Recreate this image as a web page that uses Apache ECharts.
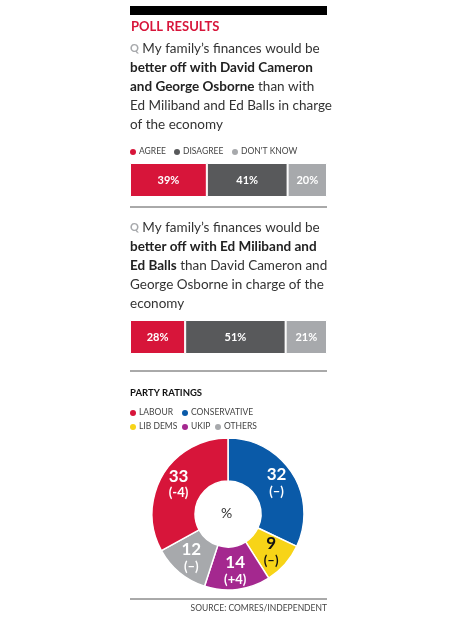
<!DOCTYPE html>
<html><head><meta charset="utf-8">
<script src="https://cdn.jsdelivr.net/npm/echarts@6/dist/echarts.min.js"></script>
<style>html,body{margin:0;padding:0;background:#fff}#main{width:474px;height:632px}</style>
</head><body><div id="main"></div>
<script>
// poll answers
const answers = ['AGREE', 'DISAGREE', "DON'T KNOW"];
const answerColors = ['#d7153a', '#58595b', '#a7a9ac'];
const q1Values = [39, 41, 20];
const q2Values = [28, 51, 21];
// party ratings, clockwise from top
const parties = ['CONSERVATIVE', 'LIB DEMS', 'UKIP', 'OTHERS', 'LABOUR'];
const partyValues = [32, 9, 14, 12, 33];
const partyChanges = ['(–)', '(–)', '(+4)', '(–)', '(-4)'];
const partyColors = ['#0a5aa8', '#f7d417', '#a4288f', '#a7a9ac', '#d7153a'];

const chart = echarts.init(document.getElementById('main'));
const F = 'Lato, "Open Sans", sans-serif';

function barSeries(values, gi) {
  return answers.map((a, i) => ({
    type: 'bar', stack: 's' + gi, xAxisIndex: gi, yAxisIndex: gi,
    data: [values[i]], barWidth: 34,
    itemStyle: { color: answerColors[i], borderColor: '#fff', borderWidth: 1 },
    label: { show: true, position: 'inside', formatter: '{c}%', color: '#fff', fontFamily: F, fontSize: 11, fontWeight: 'bold' }
  }));
}

function txt(x, y, rich, text, extra) {
  return Object.assign({ type: 'text', left: x, top: y, style: { text: text, rich: rich, font: '13.5px ' + F, fill: '#333', lineHeight: 19 } }, extra || {});
}
const qRich = { b: { fontWeight: 'bold', fontSize: 13.5, fontFamily: F, fill: '#222' }, q: { fill: '#a7a9ac', fontWeight: 'bold', fontSize: 11, fontFamily: F } };

function dot(x, y, c) { return { type: 'circle', shape: { cx: x, cy: y, r: 3 }, style: { fill: c } }; }
function small(x, y, t) { return { type: 'text', left: x, top: y, style: { text: t, font: '8.5px ' + F, fill: '#444' } }; }

chart.setOption({
  animation: false,
  grid: [
    { left: 130, top: 163, width: 197, height: 34 },
    { left: 130, top: 320, width: 197, height: 34 }
  ],
  xAxis: [0, 1].map(i => ({ gridIndex: i, type: 'value', min: 0, max: 100, show: false })),
  yAxis: [0, 1].map(i => ({ gridIndex: i, type: 'category', data: ['q'], show: false })),
  series: [
    ...barSeries(q1Values, 0),
    ...barSeries(q2Values, 1),
    {
      type: 'pie', center: [228, 514], radius: [33, 76], startAngle: 90, clockwise: true,
      itemStyle: { borderColor: '#fff', borderWidth: 1.5 },
      label: { show: true, position: 'inside', fontFamily: F, lineHeight: 17, formatter: p => '{v|' + p.value + '}\n{c|' + partyChanges[p.dataIndex] + '}',
        rich: { v: { fontSize: 17, fontWeight: 'bold', fontFamily: F }, c: { fontSize: 13, fontWeight: 'bold', fontFamily: F } } },
      labelLine: { show: false },
      data: parties.map((p, i) => ({ name: p, value: partyValues[i], itemStyle: { color: partyColors[i] },
        label: { color: i === 1 ? '#111' : '#fff' } }))
    }
  ],
  graphic: [
    { type: 'rect', shape: { x: 130, y: 6, width: 197, height: 9 }, style: { fill: '#000' } },
    { type: 'text', left: 131, top: 20, style: { text: 'POLL RESULTS', font: 'bold 13px ' + F, fill: '#d7153a' } },
    txt(130, 39, qRich, '{q|Q} My family’s finances would be\n{b|better off with David Cameron}\n{b|and George Osborne} than with\nEd Miliband and Ed Balls in charge\nof the economy'),
    dot(133, 152, answerColors[0]), small(139, 147, 'AGREE'),
    dot(177, 152, answerColors[1]), small(183, 147, 'DISAGREE'),
    dot(235, 152, answerColors[2]), small(241, 147, "DON'T KNOW"),
    { type: 'line', shape: { x1: 130, y1: 207, x2: 327, y2: 207 }, style: { stroke: '#555', lineWidth: 1 } },
    txt(130, 218, qRich, '{q|Q} My family’s finances would be\n{b|better off with Ed Miliband and}\n{b|Ed Balls} than David Cameron and\nGeorge Osborne in charge of the\neconomy'),
    { type: 'line', shape: { x1: 130, y1: 371, x2: 327, y2: 371 }, style: { stroke: '#555', lineWidth: 1 } },
    { type: 'text', left: 130, top: 388, style: { text: 'PARTY RATINGS', font: 'bold 9.5px ' + F, fill: '#111' } },
    dot(133, 413, partyColors[4]), small(139, 408, 'LABOUR'),
    dot(185, 413, partyColors[0]), small(191, 408, 'CONSERVATIVE'),
    dot(133, 427, partyColors[1]), small(139, 422, 'LIB DEMS'),
    dot(185, 427, partyColors[2]), small(191, 422, 'UKIP'),
    dot(218, 427, partyColors[3]), small(224, 422, 'OTHERS'),
    { type: 'text', left: 221, top: 506, style: { text: '%', font: '14px ' + F, fill: '#333' } },
    { type: 'line', shape: { x1: 130, y1: 599, x2: 327, y2: 599 }, style: { stroke: '#555', lineWidth: 1 } },
    { type: 'text', right: 147, top: 604, style: { text: 'SOURCE: COMRES/INDEPENDENT', font: '8.5px ' + F, fill: '#444' } }
  ]
});
</script></body></html>
